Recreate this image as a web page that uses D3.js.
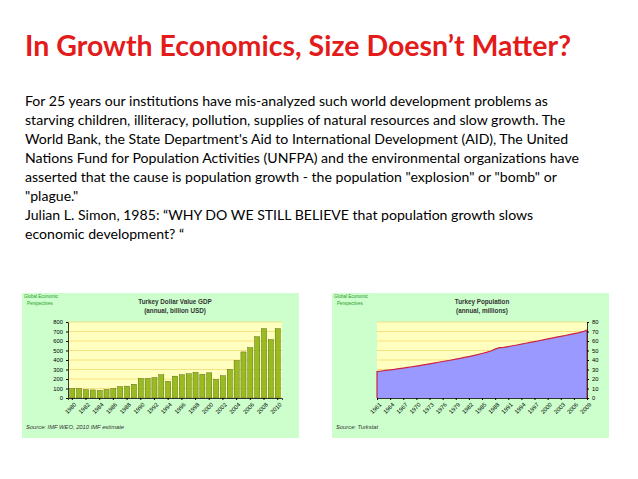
<!DOCTYPE html>
<html lang='en'>
<head>
<style>
body{margin:0;background:#fff;}
svg text{font-family:"Liberation Sans",Arial,sans-serif;}
</style>
</head>
<body>
<svg id="s" width="638" height="479"></svg>
<script src="https://d3js.org/d3.v7.min.js"></script>
<script>
var gdpYears = d3.range(1980, 2011);
var gdpValues = [100,100,88,85,80,90,100,120,125,145,205,205,215,245,175,230,245,255,270,250,265,195,235,300,395,485,530,645,730,615,730];
var gdpTicks = [0,100,200,300,400,500,600,700,800];
var popYears = d3.range(1961, 2010);
var popValues = [27.8,28.4,29.0,29.6,30.2,30.9,31.5,32.2,32.9,33.6,34.4,35.2,36.0,36.8,37.6,38.4,39.2,40.0,40.9,41.8,42.7,43.6,44.6,45.6,46.8,48.0,49.5,51.5,53.0,53.3,54.1,55.0,55.8,56.7,57.6,58.5,59.4,60.3,61.2,62.2,63.1,64.0,64.9,65.8,66.8,67.7,68.6,69.8,71.5];
var popTicks = [0,10,20,30,40,50,60,70,80];

var svg = d3.select("#s");
svg.append("text").attr("x",25).attr("y",56).attr("fill","#e31b1b")
  .style("font-family","Lato, 'Open Sans', sans-serif").style("font-weight","bold").style("font-size","28.5px")
  .text("In Growth Economics, Size Doesn\u2019t Matter?");
var lines = ["For 25 years our institutions have mis-analyzed such world development problems as",
"starving children, illiteracy, pollution, supplies of natural resources and slow growth. The",
"World Bank, the State Department's Aid to International Development (AID), The United",
"Nations Fund for Population Activities (UNFPA) and the environmental organizations have",
"asserted that the cause is population growth - the population \"explosion\" or \"bomb\" or",
"\"plague.\"",
"Julian L. Simon, 1985: \u201cWHY DO WE STILL BELIEVE that population growth slows",
"economic development? \u201c"];
svg.append("g").selectAll("text").data(lines).enter().append("text")
  .attr("x",25).attr("y",function(d,i){return 106+i*19;})
  .style("font-family","Lato, 'Open Sans', sans-serif").style("font-size","14.1px").attr("fill","#000")
  .text(function(d){return d;});

function panel(ox, title, src, plotX0, plotX1){
  var g = svg.append("g");
  g.append("rect").attr("x",ox).attr("y",293).attr("width",277).attr("height",145).attr("fill","#ccffcc");
  g.append("text").attr("x",ox+2).attr("y",298).attr("fill","#2a9a2a").style("font-size","4.5px").text("Global Economic");
  g.append("text").attr("x",ox+5).attr("y",305).attr("fill","#2a9a2a").style("font-size","4.5px").text("Perspectives");
  g.append("text").attr("x",(plotX0+plotX1)/2).attr("y",304).attr("text-anchor","middle").style("font-size","6.3px").style("font-weight","bold").attr("fill","#333").text(title[0]);
  g.append("text").attr("x",(plotX0+plotX1)/2).attr("y",313).attr("text-anchor","middle").style("font-size","6.3px").style("font-weight","bold").attr("fill","#333").text(title[1]);
  g.append("text").attr("x",ox+4).attr("y",429).style("font-size","5.8px").style("font-style","italic").attr("fill","#333").text(src);
  g.append("rect").attr("x",plotX0).attr("y",322).attr("width",plotX1-plotX0).attr("height",76).attr("fill","#ffffc0");
  return g;
}

// GDP chart
var g1 = panel(22, ["Turkey Dollar Value GDP","(annual, billion USD)"], "Source: IMF WEO, 2010 IMF estimate", 68, 282);
var x1 = d3.scaleBand().domain(gdpYears).range([68,282]).padding(0.25);
var y1 = d3.scaleLinear().domain([0,800]).range([398,322]);
g1.selectAll(".gl").data(gdpTicks).enter().append("line").attr("x1",68).attr("x2",282)
  .attr("y1",function(d){return y1(d);}).attr("y2",function(d){return y1(d);}).attr("stroke","#f0c040").attr("stroke-width",0.5);
g1.selectAll(".bar").data(gdpValues).enter().append("rect")
  .attr("x",function(d,i){return x1(gdpYears[i]);}).attr("y",function(d){return y1(d);})
  .attr("width",x1.bandwidth()).attr("height",function(d){return 398-y1(d);})
  .attr("fill","#99bb22").attr("stroke","#445500").attr("stroke-width",0.4);
var ay1 = g1.append("g").attr("transform","translate(68,0)").call(d3.axisLeft(y1).tickValues(gdpTicks).tickSize(2));
ay1.selectAll("text").style("font-size","5.8px");
var ax1 = g1.append("g").attr("transform","translate(0,398)")
  .call(d3.axisBottom(x1).tickValues(gdpYears.filter(function(d){return d%2===0;})).tickSize(2));
ax1.selectAll("text").style("font-size","5.8px").attr("text-anchor","end").attr("transform","rotate(-45)").attr("dx","-2").attr("dy","3");
g1.selectAll(".domain").attr("stroke","#333");

// Population chart
var g2 = panel(332, ["Turkey Population","(annual, millions)"], "Source: Turkstat", 377, 587);
var x2 = d3.scaleLinear().domain([1961,2009]).range([377,587]);
var y2 = d3.scaleLinear().domain([0,80]).range([398,322]);
g2.selectAll(".gl").data(popTicks).enter().append("line").attr("x1",377).attr("x2",587)
  .attr("y1",function(d){return y2(d);}).attr("y2",function(d){return y2(d);}).attr("stroke","#f0c040").attr("stroke-width",0.5);
var area = d3.area().x(function(d,i){return x2(popYears[i]);}).y0(398).y1(function(d){return y2(d);});
g2.append("path").datum(popValues).attr("d",area).attr("fill","#9999ff");
var outline = [{x:popYears[0],y:0}].concat(popValues.map(function(v,i){return {x:popYears[i],y:v};}),[{x:popYears[popYears.length-1],y:0}]);
g2.append("path").datum(outline).attr("fill","none").attr("stroke","#cc2244").attr("stroke-width",1.2)
  .attr("d",d3.line().x(function(d){return x2(d.x);}).y(function(d){return y2(d.y);}));
var ay2 = g2.append("g").attr("transform","translate(587,0)").call(d3.axisRight(y2).tickValues(popTicks).tickSize(2));
ay2.selectAll("text").style("font-size","5.8px");
var ax2 = g2.append("g").attr("transform","translate(0,398)")
  .call(d3.axisBottom(x2).tickValues(popYears.filter(function(d){return (d-1961)%3===0;})).tickFormat(d3.format("d")).tickSize(2));
ax2.selectAll("text").style("font-size","5.8px").attr("text-anchor","end").attr("transform","rotate(-45)").attr("dx","-2").attr("dy","3");
g2.selectAll(".domain").attr("stroke","#333");
</script>
</body>
</html>
